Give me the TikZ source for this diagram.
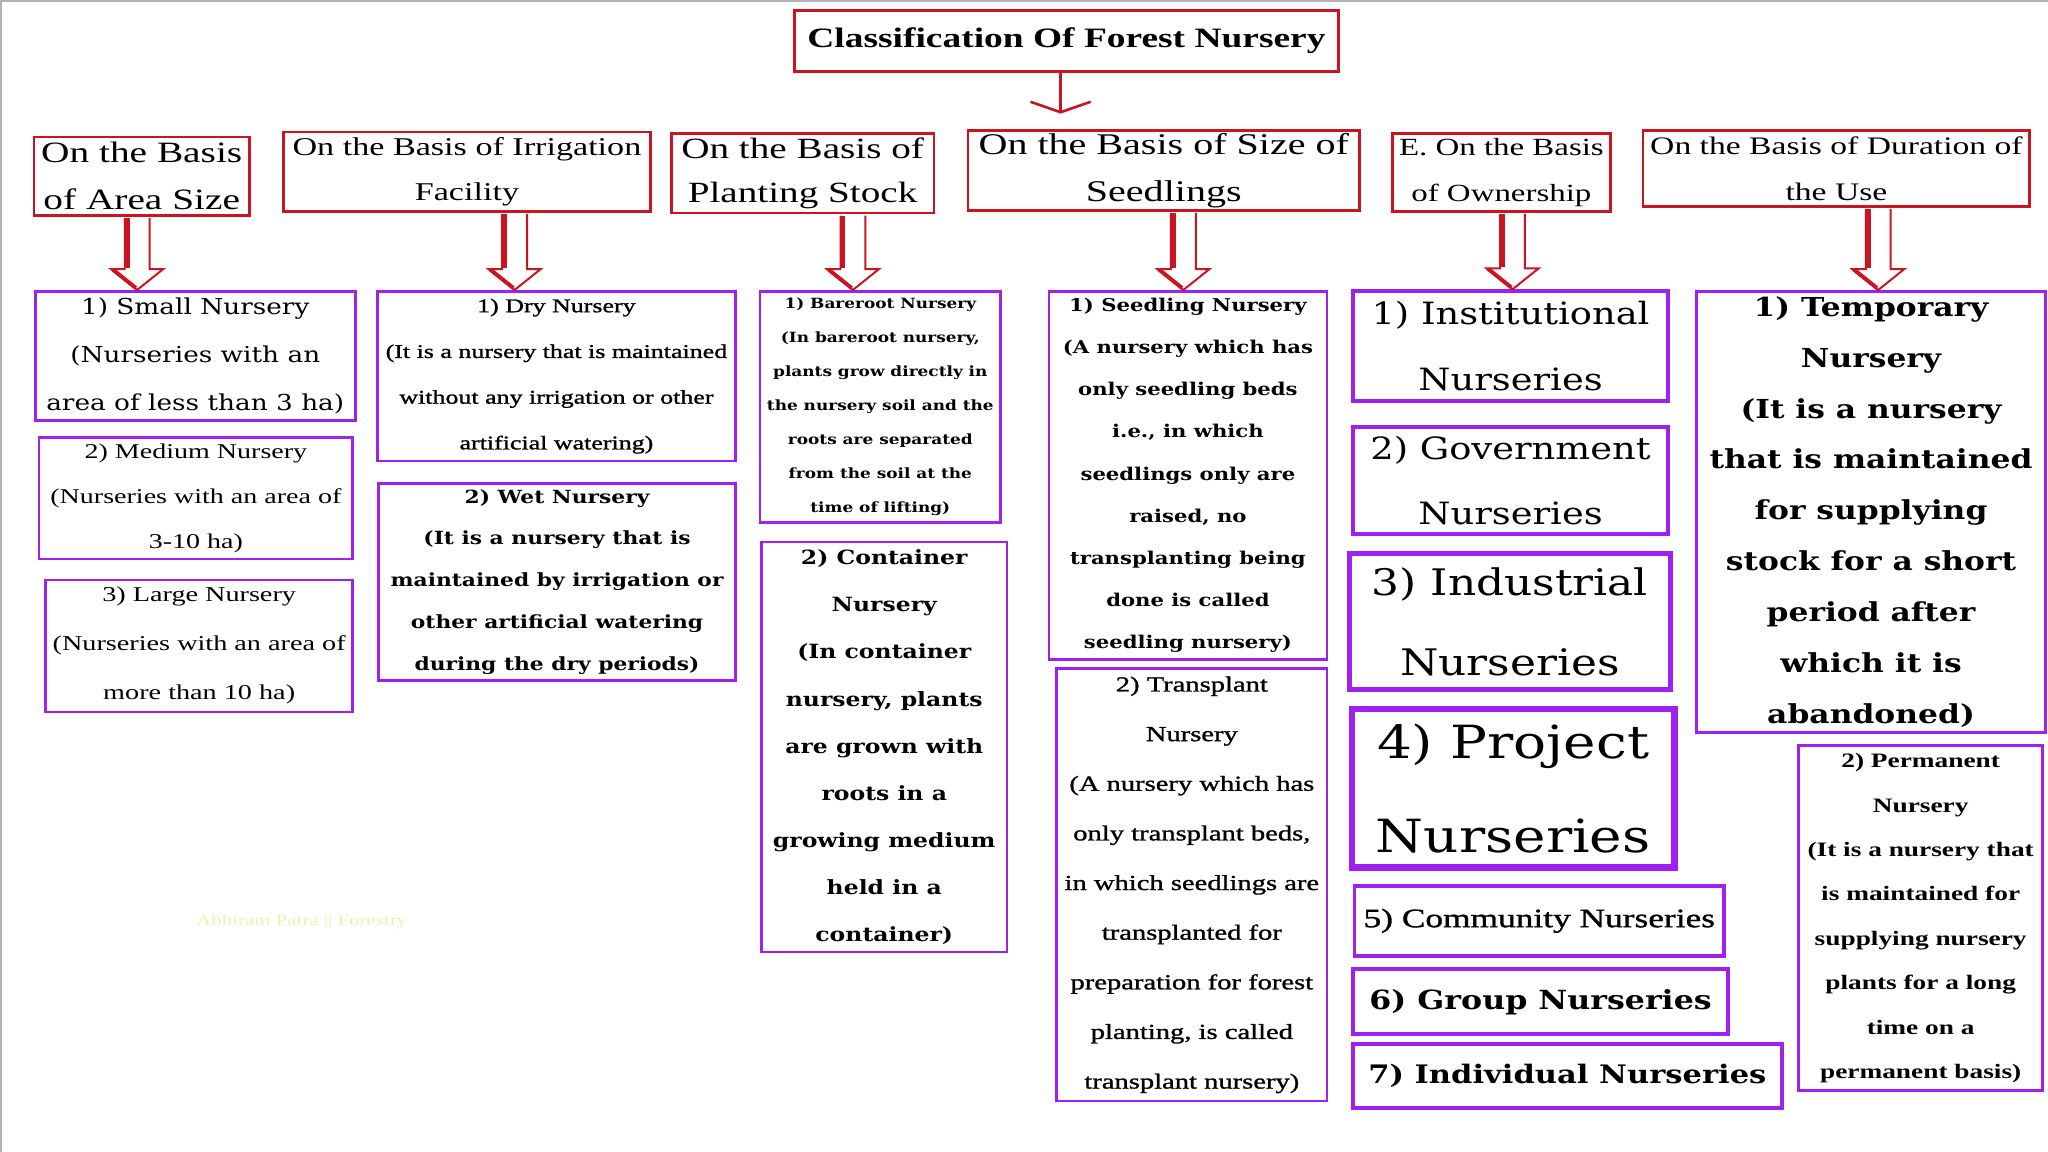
\documentclass[tikz,border=0pt]{standalone}
\usepackage{fontspec}
\setmainfont[FakeStretch=1.333]{Liberation Serif}
\newfontfamily\semifont[FakeStretch=1.333,FakeBold=1.2]{Liberation Serif}
\newfontfamily\broadfont[FakeStretch=1.2]{DejaVu Serif}
\usetikzlibrary{calc,arrows.meta}

\definecolor{basisred}{RGB}{204,20,32}
\definecolor{kindviolet}{RGB}{160,32,240}
\definecolor{markyellow}{RGB}{234,243,176}

\tikzset{every picture/.style={line width=0.75pt}}
\tikzset{
  basis/.style={draw=basisred, line width=2pt, fill=white, inner sep=0pt, align=center},
  kind/.style={draw=kindviolet, line width=2pt, fill=white, inner sep=0pt, align=center},
  fatshaft/.style={draw=basisred, line width=1.5pt, fill=white, line join=miter},
  fatedge/.style={draw=basisred, line width=4.5pt},
}
\newcommand{\sz}[2]{\fontsize{#1}{#2}\selectfont}
% hollow red arrow with a heavy left side
\newcommand{\fatarrow}[2]{%
  \draw[fatshaft] ($(#1)+(-9.5,1)$) -- ($(#2)+(-9.5,-16)$) -- ($(#2)+(-20,-16)$) -- (#2) -- ($(#2)+(20,-16)$) -- ($(#2)+(9.5,-16)$) -- ($(#1)+(9.5,1)$);
  \draw[fatedge] ($(#1)+(-8,1)$) -- ($(#2)+(-8,-17)$);
  \draw[fatedge, line width=3pt] ($(#2)+(-18.5,-15.5)$) -- ($(#2)+(-1,-1.5)$);
}

\begin{document}
\begin{tikzpicture}[x=1pt,y=1pt,yscale=-1,xscale=1]
\useasboundingbox (0,0) rectangle (1568,882);
\draw[black!30, line width=1.5pt] (0.75,882) -- (0.75,0.75) -- (1568,0.75);

% Text Node
\node[basis, line width=2.5pt, minimum width=417pt, minimum height=47pt, font=\bfseries\sz{21.5}{26}] (title) at (816.5,31.5) {Classification Of Forest Nursery};

% Text Node
\node[basis, minimum width=165pt, minimum height=60pt, font=\sz{22.6}{36}] (areaB) at (108.5,135) {On the Basis\\of Area Size};
% Text Node
\node[basis, minimum width=281pt, minimum height=61pt, font=\sz{19.6}{35}] (irrB) at (357.5,131.5) {On the Basis of Irrigation\\Facility};
% Text Node
\node[basis, minimum width=201pt, minimum height=61pt, font=\sz{22.5}{34}] (stockB) at (614.5,132.5) {On the Basis of\\Planting Stock};
% Text Node
\node[basis, minimum width=300pt, minimum height=61pt, font=\sz{23}{36}] (sizeB) at (891,130.5) {On the Basis of Size of\\Seedlings};
% Text Node
\node[basis, minimum width=167pt, minimum height=60pt, font=\sz{18.9}{35}] (ownB) at (1149.5,132) {E. On the Basis\\of Ownership};
% Text Node
\node[basis, minimum width=296pt, minimum height=58pt, font=\sz{19.3}{35}] (useB) at (1406,129) {On the Basis of Duration of\\the Use};

% Text Node
\node[kind, minimum width=245pt, minimum height=99pt, font=\broadfont\sz{16.8}{36.5}] (small) at (149.5,272.5) {1) Small Nursery\\(Nurseries with an\\area of less than 3 ha)};
% Text Node
\node[kind, minimum width=240pt, minimum height=93pt, font=\sz{16.1}{34.5}] (medium) at (150,381.5) {2) Medium Nursery\\(Nurseries with an area of\\3-10 ha)};
% Text Node
\node[kind, minimum width=235pt, minimum height=101pt, font=\sz{16.2}{37.5}] (large) at (152.5,494.5) {3) Large Nursery\\(Nurseries with an area of\\more than 10 ha)};

% Text Node
\node[kind, minimum width=274pt, minimum height=130pt, font=\semifont\sz{14.9}{35}] (dry) at (426,288) {1) Dry Nursery\\(It is a nursery that is maintained\\without any irrigation or other\\artificial watering)};
% Text Node
\node[kind, minimum width=273pt, minimum height=151pt, font=\broadfont\bfseries\sz{13.9}{32}] (wet) at (426.5,445.5) {2) Wet Nursery\\(It is a nursery that is\\maintained by irrigation or\\other artificial watering\\during the dry periods)};

% Text Node
\node[kind, minimum width=184pt, minimum height=177pt, font=\broadfont\bfseries\sz{10.8}{26}] (bareroot) at (674,311.5) {1) Bareroot Nursery\\(In bareroot nursery,\\plants grow directly in\\the nursery soil and the\\roots are separated\\from the soil at the\\time of lifting)};
% Text Node
\node[kind, minimum width=188pt, minimum height=314pt, font=\broadfont\bfseries\sz{15}{36}] (container) at (677,572) {2) Container\\Nursery\\(In container\\nursery, plants\\are grown with\\roots in a\\growing medium\\held in a\\container)};

% Text Node
\node[kind, minimum width=213pt, minimum height=282pt, font=\broadfont\bfseries\sz{13.5}{32.3}] (seedling) at (909.5,364) {1) Seedling Nursery\\(A nursery which has\\only seedling beds\\i.e., in which\\seedlings only are\\raised, no\\transplanting being\\done is called\\seedling nursery)};
% Text Node
\node[kind, minimum width=207pt, minimum height=331pt, font=\semifont\sz{16.4}{38}] (transplant) at (912.5,677.5) {2) Transplant\\Nursery\\(A nursery which has\\only transplant beds,\\in which seedlings are\\transplanted for\\preparation for forest\\planting, is called\\transplant nursery)};

% Text Node
\node[kind, line width=3pt, minimum width=241pt, minimum height=84pt, font=\broadfont\sz{23.5}{51}] (inst) at (1156.5,265) {1) Institutional\\Nurseries};
% Text Node
\node[kind, line width=3pt, minimum width=241pt, minimum height=82pt, font=\broadfont\sz{23.5}{50}] (govt) at (1156.5,368) {2) Government\\Nurseries};
% Text Node
\node[kind, line width=4pt, minimum width=246pt, minimum height=104pt, font=\broadfont\sz{28}{61}] (indus) at (1156,476) {3) Industrial\\Nurseries};
% Text Node
\node[kind, line width=5pt, minimum width=247pt, minimum height=121pt, font=\broadfont\sz{35}{72}] (project) at (1158.5,603.5) {4) Project\\Nurseries};
% Text Node
\node[kind, line width=3pt, minimum width=283pt, minimum height=54pt, font=\semifont\sz{20.3}{24}] (commun) at (1178.5,705) {5) Community Nurseries};
% Text Node
\node[kind, line width=3pt, minimum width=287pt, minimum height=50pt, font=\broadfont\bfseries\sz{20.2}{24}] (group) at (1179.5,767) {6) Group Nurseries};
% Text Node
\node[kind, line width=3pt, minimum width=328pt, minimum height=49pt, font=\broadfont\bfseries\sz{19.5}{24}] (indiv) at (1200,823.5) {7) Individual Nurseries};

% Text Node
\node[kind, minimum width=267pt, minimum height=338pt, font=\broadfont\bfseries\sz{20}{39}] (temp) at (1432.5,392) {1) Temporary\\Nursery\\(It is a nursery\\that is maintained\\for supplying\\stock for a short\\period after\\which it is\\abandoned)};
% Text Node
\node[kind, minimum width=187pt, minimum height=264pt, font=\bfseries\sz{15.7}{34}] (perm) at (1470.5,703) {2) Permanent\\Nursery\\(It is a nursery that\\is maintained for\\supplying nursery\\plants for a long\\time on a\\permanent basis)};

% Text Node
\node[text=markyellow, font=\sz{12}{14}] (mark) at (231,706) {Abhiram Patra || Forestry};

%Straight Lines
\coordinate (hub) at (812,87);
\draw[basisred, line width=2pt, -{Straight Barb[length=8pt,width=46pt]}] (title.south -| hub) -- (hub);

%Block Arrows
\coordinate (ax1) at (105,0);
\coordinate (ax2) at (394,0);
\coordinate (ax3) at (653,0);
\coordinate (ax4) at (906,0);
\coordinate (ax5) at (1158,0);
\coordinate (ax6) at (1438,0);
\fatarrow{areaB.south -| ax1}{small.north -| ax1}
\fatarrow{irrB.south -| ax2}{dry.north -| ax2}
\fatarrow{stockB.south -| ax3}{bareroot.north -| ax3}
\fatarrow{sizeB.south -| ax4}{seedling.north -| ax4}
\fatarrow{ownB.south -| ax5}{inst.north -| ax5}
\fatarrow{useB.south -| ax6}{temp.north -| ax6}
\end{tikzpicture}
\end{document}
